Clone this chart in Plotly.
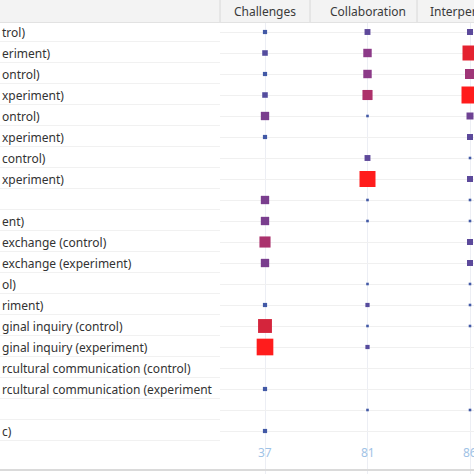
import plotly.graph_objects as go

# ---------------- data ----------------
row_labels = ["trol)", "eriment)", "ontrol)", "xperiment)", "ontrol)", "xperiment)",
              "control)", "xperiment)", "", "ent)", "exchange (control)",
              "exchange (experiment)", "ol)", "riment)", "ginal inquiry (control)",
              "ginal inquiry (experiment)", "rcultural communication (control)",
              "rcultural communication (experiment", "", "c)"]
columns = ["Challenges", "Collaboration", "Interpersonal"]
challenges = [1, 2, 1, 2, 3, 1, None, None, 3, 3, 4, 3, None, 1, 5, 6, None, 1, None, 1]
collaboration = [7, 10, 10, 12, 1, None, 7, 19, 1, 1, None, None, 1, 5, 1, 5, None, None, 1, None]
interpersonal = [6, 15, 10, 17, 7, 6, 1, 6, 1, 1, 6, 6, 1, 1, 1, None, None, None, 1, None]
totals = [37, 81, 86]

series = [challenges, collaboration, interpersonal]
size_ref = [0.36, 19 / 16, 17 / 17]
size_min = [2.1, 1.3, 1.3]   # plotly applies sizemin to the marker radius

W = H = 474
colorscale = [[0, "#4259a6"], [0.2, "#544c9e"], [0.34, "#5e489a"], [0.4, "#7a3e8e"],
              [0.5, "#8c3a88"], [0.62, "#b03068"], [0.8, "#d4253c"], [1, "#ff1c1c"]]

fig = go.Figure()
for j, vals in enumerate(series):
    xs, ys, vs = [], [], []
    for i, v in enumerate(vals):
        if v is not None:
            xs.append(j)
            ys.append(i)
            vs.append(v)
    vmax = max(vs)
    fig.add_trace(go.Scatter(
        x=xs, y=ys, mode="markers", hoverinfo="skip", showlegend=False,
        marker=dict(symbol="square", size=vs, sizemode="diameter",
                    sizeref=size_ref[j], sizemin=size_min[j], opacity=1,
                    color=vs, colorscale=colorscale, cmin=1, cmax=vmax,
                    showscale=False, line=dict(width=0))))

# pixel geometry helpers (layout only)
col_px0, col_px2 = 265, 470
unit = (col_px2 - col_px0) / 2
left_px = 220
x_range = [(left_px - col_px0) / unit, (W - col_px0) / unit]
row0_px, row_h = 32, 21
y_range = [(H - row0_px) / row_h, -row0_px / row_h]

shapes = []
# header background
shapes.append(dict(type="rect", xref="paper", yref="paper", x0=0, x1=1,
                   y0=1 - 22 / H, y1=1, fillcolor="#f3f3f3",
                   line=dict(width=0), layer="above"))
shapes.append(dict(type="line", xref="paper", yref="paper", x0=0, x1=1,
                   y0=1 - 22.5 / H, y1=1 - 22.5 / H,
                   line=dict(color="#e2e2e2", width=1), layer="above"))
for px in [220, 310, 417]:
    shapes.append(dict(type="line", xref="paper", yref="paper", x0=px / W, x1=px / W,
                       y0=1 - 22 / H, y1=1, line=dict(color="#d8d8d8", width=1),
                       layer="above"))
# label-area row separators
for i in range(len(row_labels)):
    shapes.append(dict(type="line", xref="paper", yref="y", x0=0, x1=left_px / W,
                       y0=i + 0.45, y1=i + 0.45,
                       line=dict(color="#f1f1f1", width=1), layer="below"))
# bottom border
shapes.append(dict(type="line", xref="paper", yref="paper", x0=0, x1=1,
                   y0=1 - 470 / H, y1=1 - 470 / H,
                   line=dict(color="#dadada", width=2)))

annotations = []
for i, lab in enumerate(row_labels):
    if lab:
        annotations.append(dict(xref="paper", yref="y", x=0, y=i, text=lab,
                                xanchor="left", yanchor="middle", showarrow=False,
                                font=dict(family="Noto Sans", size=12, color="#333333")))
for j, name in enumerate(columns):
    if j < 2:
        annotations.append(dict(xref="x", yref="paper", x=j, y=1 - 11.5 / H, text=name,
                                xanchor="center", yanchor="middle", showarrow=False,
                                font=dict(family="Noto Sans", size=12, color="#3a3a3a")))
    else:
        annotations.append(dict(xref="paper", yref="paper", x=428 / W, y=1 - 11.5 / H,
                                text=name, xanchor="left", yanchor="middle",
                                showarrow=False,
                                font=dict(family="Noto Sans", size=12, color="#3a3a3a")))
for j, t in enumerate(totals):
    annotations.append(dict(xref="x", yref="y", x=j, y=len(row_labels), text=str(t),
                            xanchor="center", yanchor="middle", showarrow=False,
                            font=dict(family="Noto Sans", size=12, color="#9fc3e6")))

fig.update_layout(
    width=W, height=H, margin=dict(l=0, r=0, t=0, b=0),
    paper_bgcolor="white", plot_bgcolor="white",
    xaxis=dict(domain=[left_px / W, 1], range=x_range, tickvals=[0, 1, 2],
               showticklabels=False, showgrid=True, gridcolor="#eceef4",
               zeroline=False, showline=False, fixedrange=True),
    yaxis=dict(range=y_range, tickvals=list(range(len(row_labels))),
               showticklabels=False, showgrid=True, gridcolor="#f0f0f0",
               zeroline=False, showline=False, fixedrange=True),
    shapes=shapes, annotations=annotations,
)

fig.write_html("out.html")
